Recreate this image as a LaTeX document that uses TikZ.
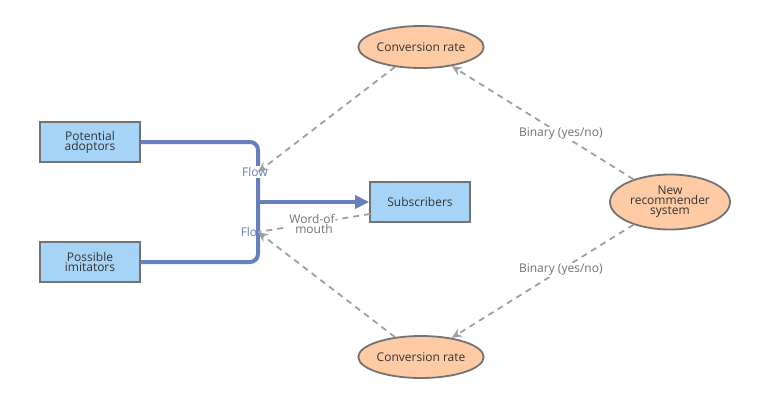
\documentclass[tikz,border=0pt]{standalone}
\usepackage{fontspec}
\setmainfont{Open Sans}
\usetikzlibrary{shapes.geometric,arrows.meta}
\definecolor{boxf}{HTML}{A6D4F7}
\definecolor{ellf}{HTML}{FFCBA4}
\definecolor{flowc}{HTML}{6680BD}
\definecolor{dashc}{HTML}{A0A0A0}
\begin{document}
\begin{tikzpicture}[x=1pt,y=-1pt,font=\fontsize{12}{13}\selectfont,
 box/.style={draw=black!55,line width=1.8pt,fill=boxf,minimum width=100pt,minimum height=40pt,align=center,text=black!80,inner sep=1pt},
 ell/.style={ellipse,draw=black!55,line width=1.8pt,fill=ellf,minimum width=123pt,minimum height=42pt,align=center,inner sep=0pt,text=black!80},
 flow/.style={draw=flowc,line width=4pt,rounded corners=8pt},
 dsh/.style={draw=dashc,line width=1.8pt,dash pattern=on 6pt off 5pt,-{Stealth[length=10pt,width=9pt]}},
 lbl/.style={text=black!55,fill=white,inner sep=1pt,align=center}]
\useasboundingbox (0,0) rectangle (770,404);
\node[box] (pa) at (90,142) {Potential\\[-3pt]adoptors};
\node[box] (pi) at (90,262) {Possible\\[-3pt]imitators};
\node[box] (sub) at (420,202) {Subscribers};
\node[ell] (c1) at (421,47) {Conversion rate};
\node[ell] (c2) at (421,357) {Conversion rate};
\node[ell,minimum width=120pt,minimum height=55pt] (nr) at (670,202) {New\\[-3pt]recommender\\[-3pt]system};
\coordinate (j) at (258,202);
\coordinate (f1) at (258,172);
\coordinate (f2) at (258,232);
\draw[flow] (pa.east) -- (258,142) -- (j);
\draw[flow] (pi.east) -- (258,262) -- (j);
\draw[flow,-{Triangle[length=14pt,width=13pt]}] (j) -- (sub.west);
\node[text=flowc,fill=white,inner sep=1pt] at (255,172) {Flow};
\node[text=flowc,inner sep=1pt] at (249,232) {Flo};
\draw[dsh] (c1) -- (f1);
\draw[dsh] (c2) -- (f2);
\coordinate (w) at (370,214);
\draw[dashc,line width=1.8pt,dash pattern=on 6pt off 5pt] (w) -- (f2);
\node[lbl] at (314,224) {Word-of-\\[-3pt]mouth};
\draw[dsh] (nr) -- (c1) node[lbl,pos=0.4] {Binary (yes/no)};
\draw[dsh] (nr) -- (c2) node[lbl,pos=0.4] {Binary (yes/no)};
\end{tikzpicture}
\end{document}
